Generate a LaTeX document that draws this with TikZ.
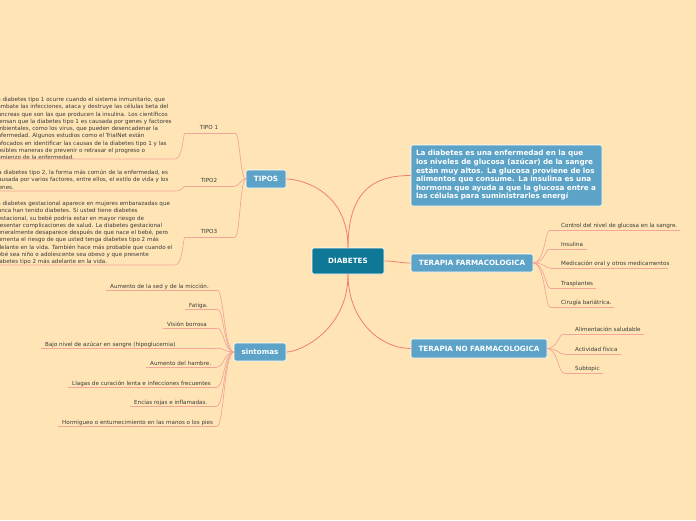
\documentclass[tikz,border=0pt]{standalone}
\usepackage{fontspec}
\setmainfont{DejaVu Sans}
\begin{document}
\begin{tikzpicture}[x=1pt,y=-1pt,
  bx/.style={fill=boxblue,draw=white,line width=0.6pt,rounded corners=2pt,text=white,font=\bfseries\fontsize{7.2}{8.6}\selectfont,inner sep=0pt},
  sm/.style={font=\fontsize{5.6}{7.3}\selectfont,text=txt,inner sep=0pt},
  ln/.style={draw=lnc,line width=0.8pt},
  ul/.style={draw=lnc!70,line width=0.7pt}]
\definecolor{bg}{HTML}{FFE5B5}
\definecolor{boxblue}{HTML}{5CA3C7}
\definecolor{dark}{HTML}{0E7896}
\definecolor{lnc}{HTML}{F07E6E}
\definecolor{txt}{HTML}{3A3A3A}
\fill[bg] (0,0) rectangle (696,520);
\useasboundingbox (0,0) rectangle (696,520);
% main nodes
\node[bx,fill=dark,minimum width=72,minimum height=26] (d) at (348,261) {DIABETES};
\node[bx,minimum width=40,minimum height=18] (tipos) at (266,179) {TIPOS};
\node[bx,minimum width=52,minimum height=18] (sin) at (260,352) {sintomas};
\node[bx,minimum width=191,minimum height=61,align=left,text width=181] (def) at (506.5,175.5) {La diabetes es una enfermedad en la que los niveles de glucosa (azúcar) de la sangre están muy altos. La glucosa proviene de los alimentos que consume. La insulina es una hormona que ayuda a que la glucosa entre a las células para suministrarles energí};
\node[bx,minimum width=122,minimum height=18] (tf) at (472,263) {TERAPIA FARMACOLOGICA};
\node[bx,minimum width=136,minimum height=19] (tnf) at (479,348.5) {TERAPIA NO FARMACOLOGICA};
% main connectors
\draw[ln] (d.north) .. controls (348,190) and (300,179) .. (tipos.east);
\draw[ln] (d.south) .. controls (348,330) and (300,352) .. (sin.east);
\draw[ln] (d.north) .. controls (348,185) and (380,175.5) .. (def.west);
\draw[ln] (d.east) .. controls (395,261) and (400,263) .. (tf.west);
\draw[ln] (d.south) .. controls (348,320) and (380,348.5) .. (tnf.west);
% TIPOS
\coordinate (tp) at (246,179);
\foreach \n/\y/\l in {t1/133/TIPO 1,t2/186/TIPO2,t3/237/TIPO3}{
  \node[sm] (\n) at (209,\y-6) {\l};
  \coordinate (\n e) at (235,\y);
  \coordinate (\n w) at (185,\y);
  \draw[ul] (\n w) -- (\n e);
  \draw[ul] (tp) .. controls (240,179) and (240,\y) .. (\n e);
}
\node[sm,anchor=north west,align=left] (x1) at (-6,97) {La diabetes tipo 1 ocurre cuando el sistema inmunitario, que\\ combate las infecciones, ataca y destruye las células beta del\\ páncreas que son las que producen la insulina. Los científicos\\ piensan que la diabetes tipo 1 es causada por genes y factores\\ ambientales, como los virus, que pueden desencadenar la\\ enfermedad. Algunos estudios como el TrialNet están\\ enfocados en identificar las causas de la diabetes tipo 1 y las\\ posibles maneras de prevenir o retrasar el progreso o\\ comienzo de la enfermedad.};
\coordinate (x1e) at (175,159);
\draw[ul] (0,159) -- (x1e) .. controls (183,159) and (183,133) .. (t1w);
\node[sm,anchor=north west,align=left] (x2) at (-5,170) {La diabetes tipo 2, la forma más común de la enfermedad, es\\ causada por varios factores, entre ellos, el estilo de vida y los\\ genes.};
\coordinate (x2e) at (175,191);
\draw[ul] (0,191) -- (x2e) .. controls (183,191) and (183,186) .. (t2w);
\node[sm,anchor=north west,align=left] (x3) at (-6,201) {La diabetes gestacional aparece en mujeres embarazadas que\\ nunca han tenido diabetes. Si usted tiene diabetes\\ gestacional, su bebé podría estar en mayor riesgo de\\ presentar complicaciones de salud. La diabetes gestacional\\ generalmente desaparece después de que nace el bebé, pero\\ aumenta el riesgo de que usted tenga diabetes tipo 2 más\\ adelante en la vida. También hace más probable que cuando el\\ bebé sea niño o adolescente sea obeso y que presente\\ diabetes tipo 2 más adelante en la vida.};
\coordinate (x3e) at (175,265);
\draw[ul] (0,265) -- (x3e) .. controls (183,265) and (183,237) .. (t3w);
% sintomas
\coordinate (sp) at (234,352);
\foreach \n/\y/\xl/\t in {s1/290/106/Aumento de la sed y de la micción.,
 s2/309/185/Fatiga.,s3/328/163/Visión borrosa,s4/348/41/Bajo nivel de azúcar en sangre (hipoglucemia),
 s5/367/146/Aumento del hambre.,s6/387/68/Llagas de curación lenta e infecciones frecuentes,
 s7/406/130/Encías rojas e inflamadas.,s8/426/58/Hormigueo o entumecimiento en las manos o los pies}{
  \node[sm,anchor=base west] (\n) at (\xl+4,\y-2) {\t};
  \coordinate (\n e) at (217,\y);
  \draw[ul] (\xl,\y) -- (\n e);
  \draw[ul] (sp) .. controls (224,352) and (224,\y) .. (\n e);
}
% farmacologica
\coordinate (fp) at (533,263);
\foreach \n/\y/\xr/\t in {f1/230/680/Control del nivel de glucosa en la sangre.,f2/249/587/Insulina,
 f3/268/668/Medicación oral y otros medicamentos,f4/288/596/Trasplantes,f5/307/614/Cirugía bariátrica.}{
  \node[sm,anchor=base west] (\n) at (561,\y-3) {\t};
  \coordinate (\n w) at (550,\y);
  \draw[ul] (\n w) -- (\xr,\y);
  \draw[ul] (fp) .. controls (545,263) and (545,\y) .. (\n w);
}
% no farmacologica
\coordinate (np) at (547,348.5);
\foreach \n/\y/\xr/\t in {n1/334/644/Alimentación saludable,n2/354/621/Actividad física,n3/373/603/Subtopic}{
  \node[sm,anchor=base west] (\n) at (575,\y-3) {\t};
  \coordinate (\n w) at (564,\y);
  \draw[ul] (\n w) -- (\xr,\y);
  \draw[ul] (np) .. controls (558,348.5) and (558,\y) .. (\n w);
}
\end{tikzpicture}
\end{document}
